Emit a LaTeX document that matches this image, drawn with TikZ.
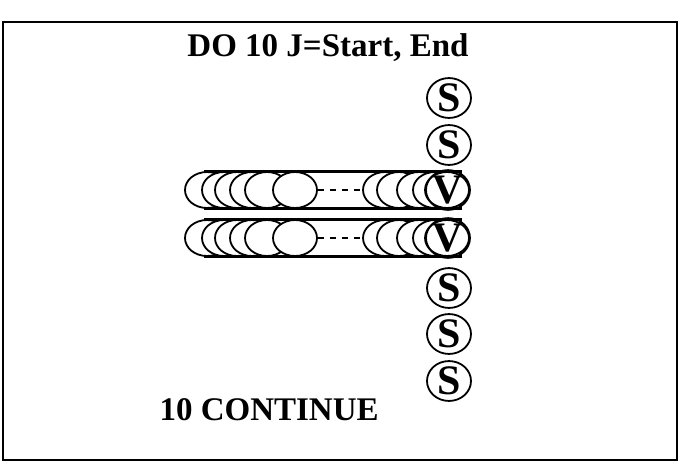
\documentclass[tikz,border=0pt]{standalone}
\usepackage{fontspec}
\setmainfont{Liberation Serif}
\usetikzlibrary{shapes.geometric}
\begin{document}
\begin{tikzpicture}[x=1pt,y=-1pt,
 ell/.style={draw,fill=white,line width=1.8pt,ellipse,minimum width=44pt,minimum height=36pt,inner sep=0pt},
 lab/.style={font=\bfseries\fontsize{33}{36}\selectfont},
 sym/.style={draw,line width=1.8pt,ellipse,minimum width=44pt,minimum height=36pt,inner sep=0pt,font=\bfseries\fontsize{42}{44}\selectfont}]
\useasboundingbox (0,0) rectangle (682,463);
\node[draw,line width=2pt,minimum width=674pt,minimum height=438pt,inner sep=0pt] (frame) at (340,241) {};
\node[lab,anchor=east] (top) at (472,48) {DO 10 J=Start, End};
\node[lab,anchor=west] (bot) at (156,410) {10 CONTINUE};
\foreach \n/\y in {s1/98,s2/145,s3/288,s4/334,s5/381}
  \node[sym] (\n) at (449,\y) {S};
\foreach \r/\y in {a/190,b/238}{
  \node[draw,line width=2.5pt,minimum width=255pt,minimum height=37pt,inner sep=0pt] (bar\r) at (333,\y) {};
  \foreach \i/\x in {1/207,2/224,3/237,4/252,5/267,6/295}
    \node[ell] (l\r\i) at (\x,\y) {};
  \foreach \i/\x in {1/385,2/399,3/419,4/435,5/447}
    \node[ell] (r\r\i) at (\x,\y) {};
  \node[sym] (v\r) at (448,\y) {V};
  \draw[line width=1.5pt,dash pattern=on 6pt off 6pt] (l\r6.east) -- (r\r1.west);
}
\end{tikzpicture}
\end{document}
